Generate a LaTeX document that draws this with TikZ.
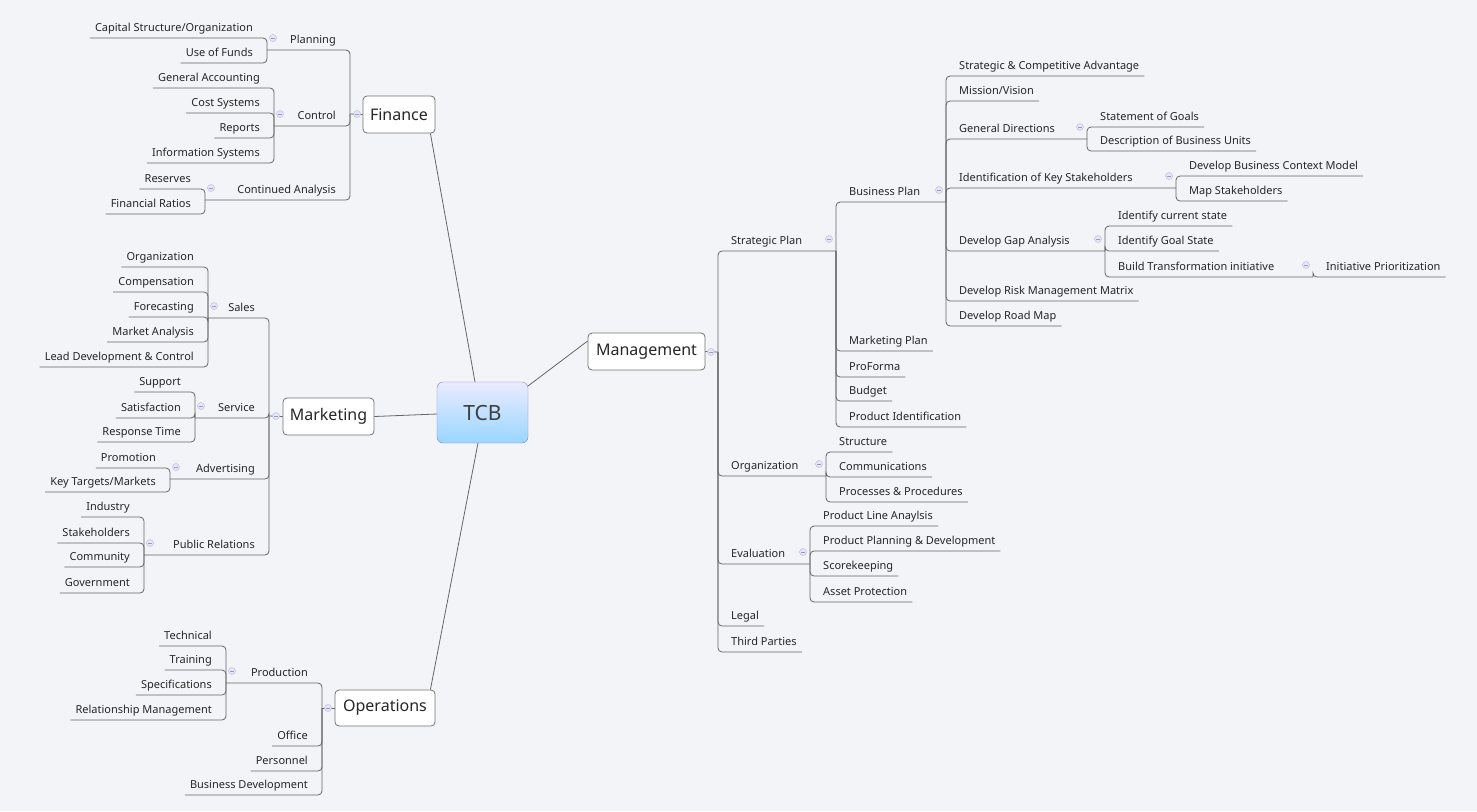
\documentclass[tikz,border=0pt]{standalone}
\usepackage{fontspec}
\setmainfont{Noto Sans}
\begin{document}
\begin{tikzpicture}[x=1pt,y=-1pt,
  conn/.style={draw=black!60,line width=0.8pt,rounded corners=4},
  lbl/.style={inner xsep=5pt,inner ysep=0pt,font=\fontsize{11}{13}\selectfont,text=black!85},
  box/.style={draw=black!55,fill=white,rounded corners=4,line width=0.8pt,font=\fontsize{16}{18}\selectfont,text=black!85,inner sep=0pt},
  icon/.style={circle,draw=blue!30!black!25,fill=blue!10,inner sep=0pt,minimum size=7pt,line width=0.5pt}]
\fill[fill={rgb,255:red,243;green,244;blue,248}] (0,0) rectangle (1477,811);
\useasboundingbox (0,0) rectangle (1477,811);
\newcommand\ic[2]{\node[icon] at (#1,#2) {}; \draw[blue!40!black!40,line width=0.5pt] (#1-2,#2) -- (#1+2,#2);}
% right side
\newcommand\RL[4]{\coordinate (#1-b) at (0,#3-7); \coordinate (#1-u) at (0,#3);
  \node[lbl,anchor=base west] (#1) at (#2-tr |- #1-b) {#4};
  \draw[conn] (#2-j) |- (#1.east |- #1-u);}
\newcommand\RB[5]{\coordinate (#1-b) at (0,#3-7); \coordinate (#1-j) at (#4,#3);
  \coordinate (#1-tr) at (#4+8,0);
  \node[lbl,anchor=base west] (#1) at (#2-tr |- #1-b) {#5};
  \draw[conn] (#2-j) |- (#1-j); \ic{#4-7}{#3-12}}
% left side
\newcommand\LL[4]{\coordinate (#1-b) at (0,#3-7); \coordinate (#1-u) at (0,#3);
  \node[lbl,anchor=base east] (#1) at (#2-tl |- #1-b) {#4};
  \draw[conn] (#2-j) |- (#1.west |- #1-u);}
\newcommand\LB[5]{\coordinate (#1-b) at (0,#3-7); \coordinate (#1-j) at (#4,#3);
  \coordinate (#1-tl) at (#4-9,0);
  \node[lbl,anchor=base east] (#1) at (#2-tl |- #1-b) {#5};
  \draw[conn] (#2-j) |- (#1-j); \ic{#4+6}{#3-12}}

% central
\node[draw=blue!60!black!50,rounded corners=6,top color=blue!8,bottom color=blue!40!cyan!40,minimum width=91pt,minimum height=61pt,font=\fontsize{21}{24}\selectfont\bfseries,text=black!75] (tcb) at (482.5,412.5) {TCB};
\node[box,minimum width=72pt,minimum height=37pt] (fin) at (399,114.5) {Finance};
\node[box,minimum width=91pt,minimum height=37pt] (mkt) at (328.5,416.5) {Marketing};
\node[box,minimum width=100pt,minimum height=36pt] (ops) at (385,708) {Operations};
\node[box,minimum width=117pt,minimum height=37pt] (mgmt) at (646.5,351.5) {Management};
\draw[conn] (tcb.north west) ++(33,0) coordinate (t1);
\draw[draw=black!60,line width=0.8pt] (fin.south east) ++(-5,0) -- (475,382);
\draw[draw=black!60,line width=0.8pt] (mkt.east) -- (437,414);
\draw[draw=black!60,line width=0.8pt] (ops.north east) ++(-5,0) -- (478,443);
\draw[draw=black!60,line width=0.8pt] (528,386) -- (mgmt.west |- 0,341);

% root junctions
\coordinate (mg-j) at (718,352); \coordinate (mg-tr) at (726,0);
\draw[conn] (mgmt.east) -- (mg-j); \ic{711}{352}
\coordinate (fi-j) at (350,114); \coordinate (fi-tl) at (341,0);
\draw[conn] (fin.west) -- (fi-j); \ic{357}{114}
\coordinate (mk-j) at (269,416); \coordinate (mk-tl) at (260,0);
\draw[conn] (mkt.west) -- (mk-j); \ic{276}{416}
\coordinate (op-j) at (322,708); \coordinate (op-tl) at (313,0);
\draw[conn] (ops.west) -- (op-j); \ic{328}{708}

% Management
\RB{sp}{mg}{251}{836}{Strategic Plan}
\RB{bp}{sp}{202}{946}{Business Plan}
\RL{sca}{bp}{76}{Strategic \& Competitive Advantage}
\RL{mv}{bp}{101}{Mission/Vision}
\RB{gd}{bp}{139}{1087}{General Directions}
\RL{sg}{gd}{127}{Statement of Goals}
\RL{dbu}{gd}{151}{Description of Business Units}
\RB{iks}{bp}{188}{1176}{Identification of Key Stakeholders}
\RL{dbc}{iks}{176}{Develop Business Context Model}
\RL{ms}{iks}{201}{Map Stakeholders}
\RB{dga}{bp}{251}{1105}{Develop Gap Analysis}
\RL{ics}{dga}{226}{Identify current state}
\RL{igs}{dga}{251}{Identify Goal State}
\RB{bti}{dga}{277}{1313}{Build Transformation initiative}
\RL{ip}{bti}{277}{Initiative Prioritization}
\RL{drm}{bp}{301}{Develop Risk Management Matrix}
\RL{drmp}{bp}{326}{Develop Road Map}
\RL{mp}{sp}{351}{Marketing Plan}
\RL{pf}{sp}{377}{ProForma}
\RL{bud}{sp}{401}{Budget}
\RL{pid}{sp}{427}{Product Identification}
\RB{org}{mg}{476}{826}{Organization}
\RL{str}{org}{452}{Structure}
\RL{com}{org}{477}{Communications}
\RL{ppr}{org}{502}{Processes \& Procedures}
\RB{ev}{mg}{564}{810}{Evaluation}
\RL{pla}{ev}{526}{Product Line Anaylsis}
\RL{ppd}{ev}{551}{Product Planning \& Development}
\RL{sk}{ev}{576}{Scorekeeping}
\RL{ap}{ev}{602}{Asset Protection}
\RL{leg}{mg}{626}{Legal}
\RL{tp}{mg}{652}{Third Parties}

% Finance
\LB{pl}{fi}{50}{267}{Planning}
\LL{cso}{pl}{38}{Capital Structure/Organization}
\LL{uof}{pl}{63}{Use of Funds}
\LB{ct}{fi}{126}{274}{Control}
\LL{ga}{ct}{88}{General Accounting}
\LL{cs}{ct}{113}{Cost Systems}
\LL{rep}{ct}{138}{Reports}
\LL{is}{ct}{163}{Information Systems}
\LB{ca}{fi}{200}{205}{Continued Analysis}
\LL{res}{ca}{189}{Reserves}
\LL{fr}{ca}{214}{Financial Ratios}

% Marketing
\LB{sa}{mk}{318}{208}{Sales}
\LL{so}{sa}{267}{Organization}
\LL{comp}{sa}{292}{Compensation}
\LL{fore}{sa}{317}{Forecasting}
\LL{ma}{sa}{342}{Market Analysis}
\LL{ld}{sa}{367}{Lead Development \& Control}
\LB{sv}{mk}{418}{195}{Service}
\LL{sup}{sv}{392}{Support}
\LL{sat}{sv}{418}{Satisfaction}
\LL{rt}{sv}{442}{Response Time}
\LB{ad}{mk}{479}{170}{Advertising}
\LL{pro}{ad}{468}{Promotion}
\LL{kt}{ad}{492}{Key Targets/Markets}
\LB{pr}{mk}{555}{144}{Public Relations}
\LL{ind}{pr}{517}{Industry}
\LL{stk}{pr}{543}{Stakeholders}
\LL{cmy}{pr}{567}{Community}
\LL{gov}{pr}{593}{Government}

% Operations
\LB{prd}{op}{683}{226}{Production}
\LL{tech}{prd}{646}{Technical}
\LL{trn}{prd}{670}{Training}
\LL{spec}{prd}{695}{Specifications}
\LL{rm}{prd}{720}{Relationship Management}
\LL{off}{op}{746}{Office}
\LL{pers}{op}{771}{Personnel}
\LL{bd}{op}{795}{Business Development}
\end{tikzpicture}
\end{document}
